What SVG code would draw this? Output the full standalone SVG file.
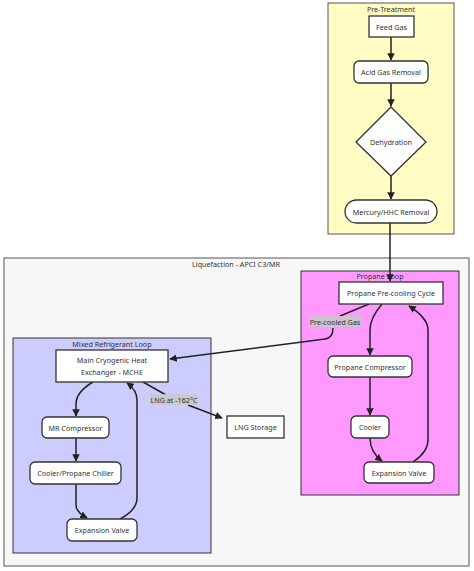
<svg xmlns="http://www.w3.org/2000/svg" width="474" height="571" viewBox="0 0 474 571">
<defs>
<style>
text{font-family:"Noto Sans","DejaVu Sans",sans-serif;font-size:7.2px;fill:#333;text-anchor:middle;dominant-baseline:central}
.node{fill:#fff;stroke:#333;stroke-width:1.3}
.edge{fill:none;stroke:#222;stroke-width:1.5;marker-end:url(#arr)}
.lbl{fill:#c8c8c8;opacity:0.85}
</style>
<marker id="arr" viewBox="0 0 10 10" refX="9" refY="5" markerWidth="5" markerHeight="5" orient="auto"><path d="M0,0L10,5L0,10z" fill="#222"/></marker>
</defs>
<rect width="474" height="571" fill="#fff"/>
<g id="cluster-pretreatment"><rect x="328" y="3" width="126" height="231" fill="#fffcc4" stroke="#555" stroke-width="1"/><text x="391" y="9">Pre-Treatment</text></g>
<g id="cluster-liquefaction"><rect x="4" y="258" width="465" height="308" fill="#f7f7f7" stroke="#555" stroke-width="1"/><text x="236" y="264">Liquefaction - APCI C3/MR</text></g>
<g id="cluster-propane"><rect x="301" y="271" width="158" height="224" fill="#ff99ff" stroke="#333" stroke-width="1"/><text x="380" y="276">Propane Loop</text></g>
<g id="cluster-mr"><rect x="13" y="338" width="198" height="215" fill="#ccccff" stroke="#333" stroke-width="1"/><text x="112" y="344">Mixed Refrigerant Loop</text></g>

<g id="connectors">
<path class="edge" d="M391,37V60"/>
<path class="edge" d="M391,83V106"/>
<path class="edge" d="M391,176V199"/>
<path class="edge" d="M390,223V281"/>
<path class="edge" d="M369,304L340,316M333,328Q333,338 325,339L170,359"/>
<path class="edge" d="M382,304Q370,318 370,330V355"/>
<path class="edge" d="M370,377V415"/>
<path class="edge" d="M370,438Q370,452 382,461"/>
<path class="edge" d="M413,462Q428,452 428,440V330Q428,318 409,306"/>
<path class="edge" d="M93,382Q76,392 76,404V416"/>
<path class="edge" d="M76,438V461"/>
<path class="edge" d="M76,484V505Q76,512 87,518"/>
<path class="edge" d="M120,519Q137,510 137,498V400Q137,390 127,383"/>
<path class="edge" d="M143,382L166,395M188,405L222,418"/>
<rect class="lbl" x="309" y="316" width="52" height="11"/>
<text x="335" y="321.5">Pre-cooled Gas</text>
<rect class="lbl" x="150" y="394" width="48" height="11"/>
<text x="174" y="399.5">LNG at -162°C</text>
</g>

<g id="feed-gas"><rect class="node" x="369" y="16" width="45" height="21"/><text x="391.5" y="26.5">Feed Gas</text></g>
<g id="acid-gas-removal"><rect class="node" x="354" y="61" width="74" height="22" rx="5"/><text x="391" y="72">Acid Gas Removal</text></g>
<g id="dehydration"><polygon class="node" points="391,107 426,142 391,176 356,142"/><text x="391" y="142">Dehydration</text></g>
<g id="mercury-removal"><rect class="node" x="345" y="200" width="92" height="23" rx="11.5"/><text x="391" y="211.5">Mercury/HHC Removal</text></g>

<g id="propane-precooling"><rect class="node" x="339" y="282" width="104" height="22"/><text x="391" y="293">Propane Pre-cooling Cycle</text></g>
<g id="propane-compressor"><rect class="node" x="328" y="356" width="84" height="21" rx="5"/><text x="370" y="366.5">Propane Compressor</text></g>
<g id="cooler"><rect class="node" x="351" y="416" width="38" height="22" rx="5"/><text x="370" y="427">Cooler</text></g>
<g id="propane-expansion-valve"><rect class="node" x="364" y="462" width="70" height="21" rx="5"/><text x="399" y="472.5">Expansion Valve</text></g>

<g id="mche"><rect class="node" x="56" y="350" width="112" height="32"/><text x="112" y="360">Main Cryogenic Heat</text><text x="112" y="372">Exchanger - MCHE</text></g>
<g id="mr-compressor"><rect class="node" x="42" y="417" width="67" height="21" rx="5"/><text x="75.5" y="427.5">MR Compressor</text></g>
<g id="cooler-propane-chiller"><rect class="node" x="30" y="462" width="91" height="22" rx="5"/><text x="75.5" y="473">Cooler/Propane Chiller</text></g>
<g id="mr-expansion-valve"><rect class="node" x="67" y="519" width="70" height="22" rx="5"/><text x="102" y="530">Expansion Valve</text></g>
<g id="lng-storage"><rect class="node" x="227" y="416" width="57" height="22"/><text x="255.5" y="427">LNG Storage</text></g>
</svg>
